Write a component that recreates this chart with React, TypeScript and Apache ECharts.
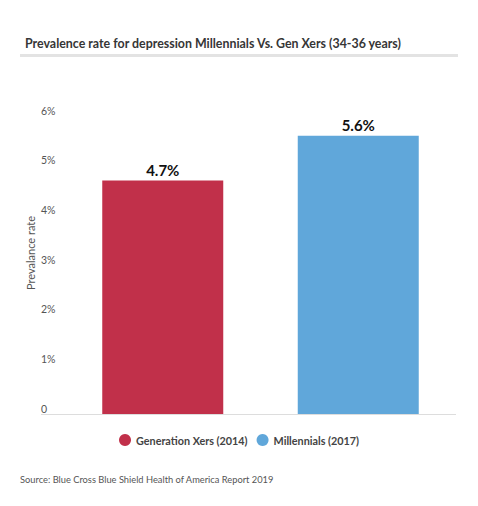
import React, { useEffect, useRef } from "react";
import * as echarts from "echarts";

const categories = ["Generation Xers (2014)", "Millennials (2017)"];
const seriesNames = ["Generation Xers (2014)", "Millennials (2017)"];
const genXValues = [4.7, "-"];
const millennialValues = ["-", 5.6];
const colors = ["#C1304A", "#60A7DA"];
const yTicks = { min: 0, max: 6, interval: 1 };

export default function App() {
  const ref = useRef<HTMLDivElement>(null);
  useEffect(() => {
    document.body.style.margin = "0";
    const chart = echarts.init(ref.current!, undefined, { renderer: "svg" });
    const font = "Lato, sans-serif";
    const label = {
      show: true,
      position: "top",
      distance: 3,
      formatter: (p: any) => `${p.value}%`,
      color: "#111",
      fontSize: 15,
      fontWeight: "bold",
      fontFamily: font,
    };
    chart.setOption({
      animation: false,
      backgroundColor: "#ffffff",
      textStyle: { fontFamily: font },
      grid: { left: 65, right: 22, top: 116, bottom: 92 },
      title: {
        text: "Prevalence rate for depression Millennials Vs. Gen Xers (34-36 years)",
        left: 20,
        top: 32,
        textStyle: { fontSize: 12.4, fontWeight: "bold", color: "#363636", fontFamily: font },
      },
      legend: {
        bottom: 55,
        left: "center",
        icon: "circle",
        itemWidth: 12,
        itemHeight: 12,
        itemGap: 9,
        data: seriesNames,
        textStyle: { fontSize: 10.8, color: "#444", fontWeight: "bold", fontFamily: font },
      },
      graphic: [
        { type: "rect", shape: { x: 20, y: 54, width: 438, height: 3 }, style: { fill: "#e3e3e3" } },
        { type: "line", shape: { x1: 41, y1: 414.5, x2: 456, y2: 414.5 }, style: { stroke: "#dddddd", lineWidth: 1 } },
        {
          type: "text",
          x: 30,
          y: 253,
          rotation: Math.PI / 2,
          style: {
            text: "Prevalance rate",
            fill: "#555",
            fontSize: 11,
            fontFamily: font,
            align: "center",
            verticalAlign: "middle",
          },
        },
        {
          type: "text",
          x: 20,
          y: 479,
          style: {
            text: "Source: Blue Cross Blue Shield Health of America Report 2019",
            fill: "#555",
            fontSize: 9.3,
            fontFamily: font,
            verticalAlign: "middle",
          },
        },
      ],
      xAxis: {
        type: "category",
        data: categories,
        axisLine: { show: false },
        axisTick: { show: false },
        axisLabel: { show: false },
      },
      yAxis: {
        type: "value",
        min: yTicks.min,
        max: yTicks.max,
        interval: yTicks.interval,
        splitLine: { show: false },
        axisLine: { show: false },
        axisTick: { show: false },
        axisLabel: {
          align: "left",
          verticalAlign: "bottom",
          margin: 24,
          fontSize: 10.5,
          color: "#555",
          fontFamily: font,
          formatter: (v: number) => (v === 0 ? "0" : `${v}%`),
        },
      },
      series: [
        {
          name: seriesNames[0],
          type: "bar",
          data: genXValues,
          barWidth: 121,
          barGap: "-100%",
          itemStyle: { color: colors[0] },
          label,
        },
        {
          name: seriesNames[1],
          type: "bar",
          data: millennialValues,
          barWidth: 121,
          barGap: "-100%",
          itemStyle: { color: colors[1] },
          label,
        },
      ],
    });
    return () => chart.dispose();
  }, []);
  return <div ref={ref} style={{ width: 478, height: 506 }} />;
}
